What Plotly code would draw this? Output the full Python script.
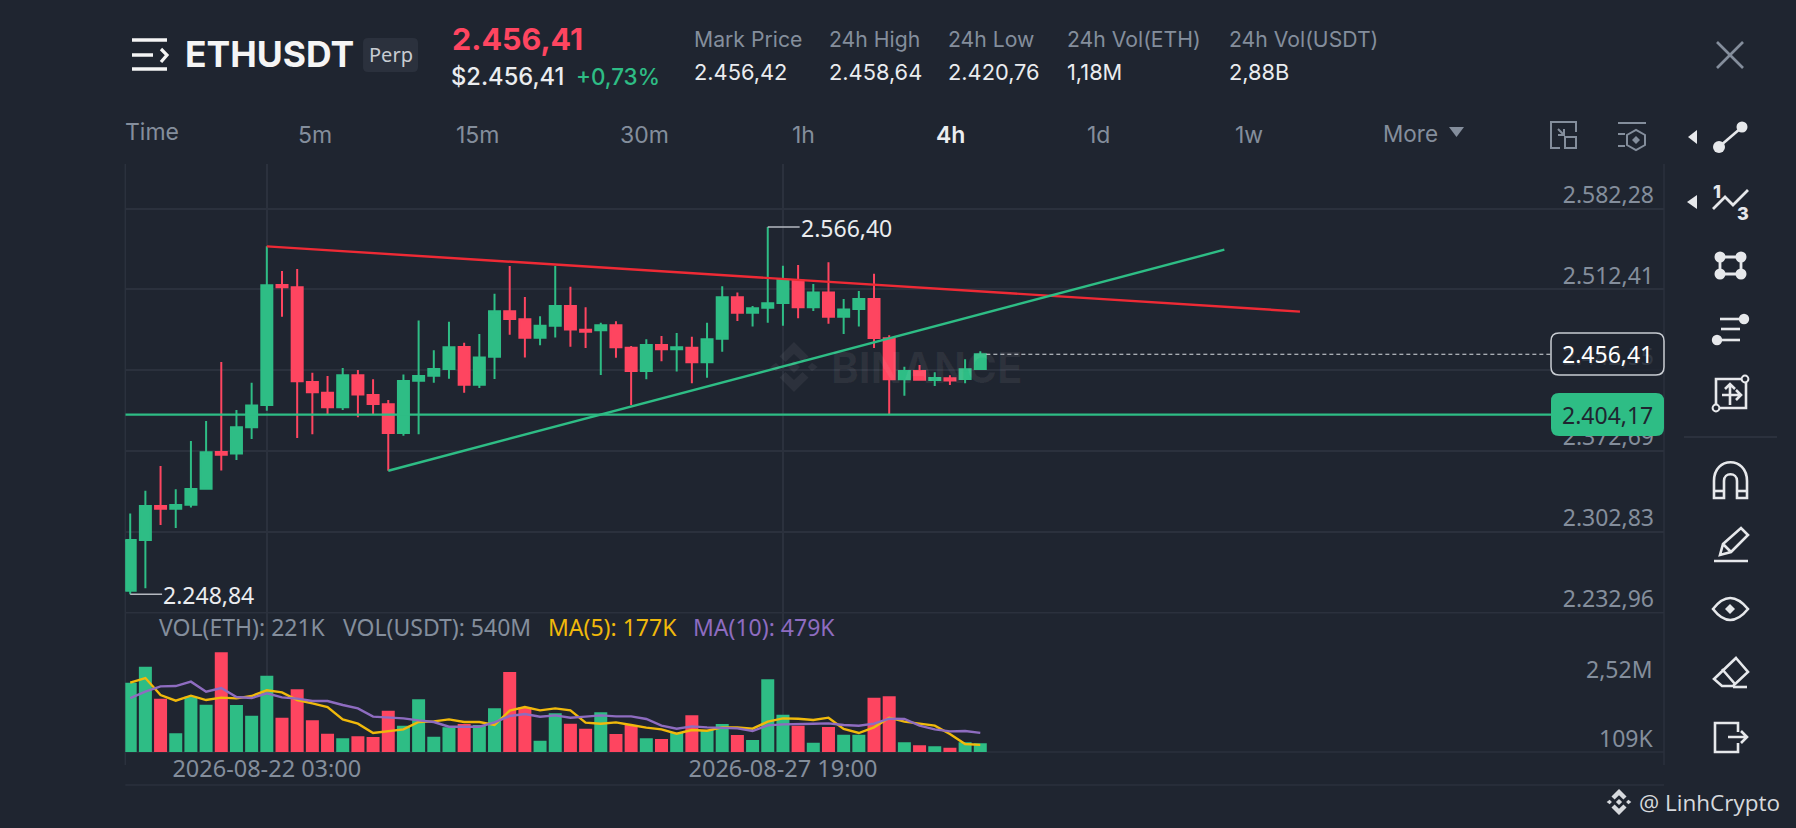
import re
import pandas as pd
import plotly.graph_objects as go

W, H = 1796, 828
BG = "#1F2530"; GRID = "#2B313D"; GREEN = "#2EBD85"; RED = "#FE4560"; GRAY = "#848E9C"; WHITE = "#EAECEF"
ICON = "#E6E8EB"

# ---------- data ----------
start = pd.Timestamp("2026-08-20 15:00")
opens = [2252.0,2295.8,2325.2,2322.9,2326.3,2340.2,2371.9,2370.7,2393.2,2412.5,2516.3,2514.3,2432.4,2423.2,2410.5,2438.2,2421.2,2413.1,2388.3,2433.6,
         2437.9,2443.6,2462.7,2430.1,2454.3,2493.5,2486.6,2470.7,2481.1,2498.1,2477.7,2477.1,2481.4,2462.1,2441.9,2464.4,2460.7,2462.1,2449.4,2469.9,
         2505.6,2492.4,2496.7,2500.7,2520.0,2497.0,2509.7,2488.9,2495.5,2504.2,2470.2,2434.7,2441.9,2434.1,2435.6,2435.0,2443.6]
highs = [2318.8,2338.4,2359.8,2339.6,2381.4,2398.7,2449.7,2408.2,2431.8,2549.7,2528.4,2530.1,2440.5,2437.6,2444.5,2442.8,2434.7,2416.8,2439.0,2485.7,
         2459.8,2484.6,2466.4,2473.9,2508.8,2532.7,2505.9,2489.2,2532.7,2514.8,2497.0,2483.7,2484.9,2463.5,2469.3,2472.2,2474.8,2471.6,2483.7,2515.1,
         2509.7,2498.1,2566.4,2533.0,2533.6,2517.1,2535.9,2504.2,2511.1,2526.1,2472.8,2445.7,2447.1,2440.8,2438.2,2452.0,2458.9]
lows = [2248.84,2254.0,2308.8,2306.2,2324.0,2340.2,2356.0,2365.0,2383.1,2407.6,2488.9,2384.0,2387.2,2404.7,2408.2,2401.9,2404.7,2355.7,2386.0,2387.2,
        2431.8,2435.3,2423.2,2427.2,2435.0,2473.3,2453.7,2464.1,2471.0,2463.0,2461.8,2438.5,2453.4,2412.5,2434.7,2450.3,2441.6,2431.3,2436.1,2458.6,
        2485.2,2480.5,2483.7,2481.1,2487.5,2493.8,2482.8,2473.9,2480.5,2461.8,2404.17,2420.6,2433.6,2428.9,2429.8,2431.3,2443.4]
closes = [2295.8,2325.2,2322.9,2326.0,2339.9,2371.6,2369.6,2393.2,2412.2,2516.0,2514.3,2433.0,2423.5,2410.5,2438.2,2421.7,2413.4,2388.3,2433.3,2437.6,
          2443.6,2462.4,2430.1,2453.7,2493.5,2486.9,2470.7,2481.1,2498.1,2477.9,2475.9,2481.4,2462.4,2441.9,2464.4,2460.7,2462.4,2449.4,2469.3,2505.6,
          2492.4,2496.1,2500.4,2520.6,2497.0,2509.7,2488.9,2495.2,2504.2,2470.4,2434.7,2441.9,2434.4,2435.9,2433.8,2443.4,2456.41]
volume_k = [1733,2132,1333,466,1383,1183,2491,1175,908,1908,858,1566,791,458,342,392,375,1033,658,1316,
            383,616,700,675,1091,1999,1116,283,966,708,583,991,450,675,342,325,483,916,550,700,
            425,300,1816,933,658,233,625,433,433,1358,1391,242,167,142,108,242,221]
ma5_k = [1733,1849,1424,1283,1408,1299,1358,1341,1399,1541,1491,1299,1216,1125,816,708,475,525,566,750,
         766,816,750,750,675,1033,1125,1041,1091,1041,733,708,741,675,608,566,458,550,533,616,
         616,583,758,841,833,800,858,575,475,616,858,758,700,658,450,200,177]
ma10_k = [1349,1508,1641,1649,1758,1508,1599,1374,1349,1466,1366,1333,1274,1274,1175,1091,883,866,841,791,
          750,633,633,633,741,900,950,883,916,858,883,916,891,891,825,658,583,641,616,608,
          591,525,666,691,708,708,716,675,658,708,833,825,658,566,516,525,479]
price_ticks = [2582.28, 2512.41, 2442.55, 2372.69, 2302.83, 2232.96]
price_tick_text = ["2.582,28", "2.512,41", "2.442,55", "2.372,69", "2.302,83", "2.232,96"]
date_ticks = ["2026-08-22 03:00", "2026-08-27 19:00"]
red_trend = [2549.7, 2493.3]
green_trend = [2355.7, 2546.8]
support = 2404.17
last_price = 2456.41

# ---------- pixel helpers ----------
def fx(x): return x / W
def fy(y): return (H - y) / H
X0, X1 = 125.3, 1664.0
BAR0, BARW = 130.2, 15.18
def when(i): return start + pd.Timedelta(hours=4 * i)
def iat(px): return (px - BAR0) / BARW

shapes, notes = [], []
def path(d, color=None, fill=None, w=2.6, layer="above"):
    toks = re.findall(r"[MLQCZ]|-?[\d.]+", d)
    out, isx = [], True
    for t in toks:
        if t in "MLQCZ":
            out.append(t); isx = True
        else:
            out.append(f"{fx(float(t)):.5f}" if isx else f"{fy(float(t)):.5f}")
            isx = not isx
    s = dict(type="path", path=" ".join(out), xref="paper", yref="paper", layer=layer,
             line=dict(color=color or "rgba(0,0,0,0)", width=w if color else 0))
    if fill: s["fillcolor"] = fill
    shapes.append(s)
def seg(x0, y0, x1, y1, color=ICON, w=2.6, layer="above"):
    shapes.append(dict(type="line", xref="paper", yref="paper", x0=fx(x0), x1=fx(x1), y0=fy(y0), y1=fy(y1),
                       layer=layer, line=dict(color=color, width=w)))
def dot(x, y, r, fill=ICON, color=None, w=2):
    shapes.append(dict(type="circle", xref="paper", yref="paper", x0=fx(x - r), x1=fx(x + r), y0=fy(y - r), y1=fy(y + r),
                       layer="above", fillcolor=fill, line=dict(color=color or fill, width=w if color else 0)))
def rrect(x0, y0, x1, y1, r, color=None, fill=None, w=1.5, layer="above"):
    path(f"M {x0+r} {y0} L {x1-r} {y0} Q {x1} {y0} {x1} {y0+r} L {x1} {y1-r} Q {x1} {y1} {x1-r} {y1} "
         f"L {x0+r} {y1} Q {x0} {y1} {x0} {y1-r} L {x0} {y0+r} Q {x0} {y0} {x0+r} {y0} Z", color, fill, w, layer)
def txt(x, y, s, size=21, color=GRAY, anchor="left", weight=None, font="Noto Sans"):
    f = dict(size=size, color=color, family=font)
    if weight: f["weight"] = weight
    notes.append(dict(x=fx(x), y=fy(y), xref="paper", yref="paper", text=s, showarrow=False, xanchor=anchor,
                      yanchor="middle", font=f, borderpad=0))
def logo(cx, cy, r, fill):
    def poly(pts):
        path("M " + " L ".join(f"{cx+a*r:.2f} {cy+b*r:.2f}" for a, b in pts) + " Z", None, fill)
    poly([(0, -.24), (.24, 0), (0, .24), (-.24, 0)])
    poly([(-.72, -.17), (-.55, 0), (-.72, .17), (-.95, 0)])
    poly([(.72, -.17), (.95, 0), (.72, .17), (.55, 0)])
    poly([(0, -1), (.58, -.42), (.34, -.2), (0, -.52), (-.34, -.2), (-.58, -.42)])
    poly([(0, 1), (.58, .42), (.34, .2), (0, .52), (-.34, .2), (-.58, .42)])

# ---------- frame ----------
seg(X0, 164, X0, 765, GRID, 1.5, "below")
seg(X1, 164, X1, 765, GRID, 1.5, "below")
seg(X0, 612.7, X1, 612.7, GRID, 1.5, "below")
seg(X0, 752, X1, 752, GRID, 1.5, "below")
seg(X0, 785, X1, 785, GRID, 1.5, "below")
logo(794, 367, 25, "rgba(255,255,255,0.06)")
txt(830, 367, "BINANCE", 42, "rgba(255,255,255,0.06)", weight=700, font="Inter")

# ---------- header ----------
seg(132, 40, 167, 40, "#F5F5F5", 3.5); seg(132, 55, 153, 55, "#F5F5F5", 3.5); seg(132, 69, 167, 69, "#F5F5F5", 3.5)
path("M 161 49 L 167 55 L 161 62", "#F5F5F5", None, 3.2)
txt(184, 55, "ETHUSDT", 35.5, "#F5F5F5", weight=700, font="Inter")
rrect(363, 38, 418, 72, 5, None, "#2B313D")
txt(390.5, 55, "Perp", 20, "#C8CCD2", "center")
txt(451, 39, "2.456,41", 30.5, RED, weight=700, font="Inter")
txt(450, 77, "$2.456,41", 23.7, WHITE, weight=500, font="Inter")
txt(575, 77, "+0,73%", 22.4, GREEN, weight=500, font="Inter")
for x, a, b in [(692.5, "Mark Price", "2.456,42"), (827.5, "24h High", "2.458,64"), (947, "24h Low", "2.420,76"),
                (1066, "24h Vol(ETH)", "1,18M"), (1228, "24h Vol(USDT)", "2,88B")]:
    txt(x, 39, a, 21.2, GRAY, font="Inter")
    txt(x, 71.5, b, 21.8, WHITE, font="Inter")
seg(1717, 42, 1743, 68, GRAY, 2.6); seg(1743, 42, 1717, 68, GRAY, 2.6)
txt(124, 132, "Time", 23, GRAY, font="Inter")
for cx, s in [(315, "5m"), (477, "15m"), (644, "30m"), (803, "1h"), (1098, "1d"), (1249, "1w")]:
    txt(cx, 135, s, 23, GRAY, "center", font="Inter")
txt(950, 135, "4h", 23, WHITE, "center", weight=600, font="Inter")
txt(1382, 133, "More", 22.5, GRAY, font="Inter")
path("M 1449 127 L 1464 127 L 1456.5 137 Z", None, GRAY)

# top-right view icons
path("M 1560 148 L 1551 148 L 1551 122 L 1576 122 L 1576 132", GRAY, None, 2)
path("M 1565 137 L 1576 137 L 1576 148 L 1565 148 Z", GRAY, None, 2)
path("M 1558 129 L 1564 135 M 1564 129 L 1564 135 L 1558 135", GRAY, None, 2)
seg(1618, 123, 1646, 123, GRAY, 2); seg(1618, 134, 1625, 134, GRAY, 2); seg(1618, 146, 1625, 146, GRAY, 2)
path("M 1636 130 L 1645 135 L 1645 145 L 1636 150 L 1627 145 L 1627 135 Z", GRAY, None, 2)
path("M 1636 136 L 1640 140 L 1636 144 L 1632 140 Z", None, GRAY)

# ---------- right toolbar ----------
path("M 1697 130 L 1697 144 L 1688 137 Z", None, ICON)
seg(1720, 146, 1741, 128); dot(1742, 127, 5.5); dot(1719, 147, 6)
path("M 1697 195 L 1697 209 L 1687 202 Z", None, ICON)
path("M 1713 209 L 1725 197 L 1733 205 L 1748 190", ICON, None, 2.8)
txt(1717, 191, "1", 18, ICON, "center", 800, "Inter"); txt(1743, 213, "3", 18, ICON, "center", 800, "Inter")
path("M 1720 257 L 1741 257 L 1741 274 L 1720 274 Z", ICON, None, 2.8)
for a, b in [(1720, 257), (1741, 257), (1720, 274), (1741, 274)]: dot(a, b, 5.5)
seg(1720, 319, 1740, 319); seg(1721, 329, 1740, 329); seg(1721, 340, 1740, 340)
dot(1744, 319, 5.2); dot(1717, 340, 5.2)
path("M 1716 379 L 1746 379 L 1746 408 L 1716 408 Z", ICON, None, 2.6)
dot(1745, 379, 3.4, BG, ICON, 2); dot(1716, 408, 3.4, BG, ICON, 2)
path("M 1730 405 L 1730 384 M 1725 389 L 1730 384 L 1735 389 M 1722 395 L 1741 395 M 1736 390 L 1741 395 L 1736 400", ICON, None, 2.6)
seg(1684, 437, 1777, 437, GRID, 2)
path("M 1714 498 L 1714 481 C 1714 456 1747 456 1747 481 L 1747 498 L 1737 498 L 1737 481 C 1737 472 1724 472 1724 481 L 1724 498 Z", ICON, None, 2.6)
seg(1714, 491, 1724, 491); seg(1737, 491, 1747, 491)
seg(1714, 561, 1748, 561)
path("M 1720 555 L 1723 544 L 1741 528 L 1748 535 L 1731 552 Z M 1723 544 L 1731 552", ICON, None, 2.6)
path("M 1713 609 Q 1730 587 1748 609 Q 1730 631 1713 609 Z", ICON, None, 2.6)
path("M 1730 604 L 1735 609 L 1730 614 L 1725 609 Z", None, ICON)
path("M 1736 658 L 1748 672 L 1733 686 L 1722 686 L 1714 679 Z M 1722 669 L 1735 684", ICON, None, 2.6)
seg(1733, 687, 1747, 687)
path("M 1738 732 L 1738 723 L 1715 723 L 1715 752 L 1738 752 L 1738 743", ICON, None, 2.6)
path("M 1728 737 L 1747 737 M 1741 731 L 1747 737 L 1741 743", ICON, None, 2.6)

# ---------- price badges ----------
rrect(1551, 393, 1664, 436, 8, None, GREEN)
rrect(1551, 333, 1664, 375, 8, "#C8CCD2", "rgba(31,37,48,0.82)", 1.5)
txt(1607.5, 354, "2.456,41", 23, "#FFFFFF", "center")
txt(1607.5, 415, "2.404,17", 23, BG, "center")

# ---------- volume panel text ----------
txt(158, 627, "VOL(ETH): 221K", 23, GRAY)
txt(342, 627, "VOL(USDT): 540M", 23, GRAY)
txt(547, 627, "MA(5): 177K", 23, "#F0B90B")
txt(692, 627, "MA(10): 479K", 23, "#8E6CC0")
txt(1654, 669, "2,52M", 23, GRAY, "right")
txt(1654, 738, "109K", 23, GRAY, "right")
txt(162, 595, "2.248,84", 23, WHITE)
txt(800, 228, "2.566,40", 23, WHITE)
logo(1619, 802, 13, "#D6D9DD")
txt(1638, 802, "@ LinhCrypto", 22.5, "#D6D9DD", font="Open Sans")

# ---------- traces ----------
dates = [when(i) for i in range(len(opens))]
bar_colors = [GREEN if c >= o else RED for o, c in zip(opens, closes)]
fig = go.Figure()
fig.add_trace(go.Candlestick(x=dates, open=opens, high=highs, low=lows, close=closes, whiskerwidth=0, xaxis="x", yaxis="y",
                             increasing=dict(line=dict(color=GREEN, width=2), fillcolor=GREEN),
                             decreasing=dict(line=dict(color=RED, width=2), fillcolor=RED), hoverinfo="skip"))
def line(xs, ys, color, w=2.4, dash=None):
    fig.add_trace(go.Scatter(x=xs, y=ys, mode="lines", xaxis="x", yaxis="y", hoverinfo="skip",
                             line=dict(color=color, width=w, dash=dash)))
line([when(iat(X0)), when(iat(1551))], [support, support], GREEN)
line([when(9), when(77.06)], red_trend, "#EE2A35")
line([when(17), when(72.08)], green_trend, GREEN)
line([when(56.4), when(iat(1551))], [last_price, last_price], "#D8DBE0", 1.2, "4px,3px")
line([when(42), when(44.1)], [highs[42], highs[42]], "#B5B9C0", 1.5)
line([when(0), when(2.1)], [lows[0], lows[0]], "#B5B9C0", 1.5)
fig.add_trace(go.Scatter(x=[when(iat(1654))] * len(price_ticks), y=price_ticks, text=price_tick_text, mode="text",
                         textposition="top left", textfont=dict(size=23, color=GRAY, family="Noto Sans"),
                         cliponaxis=False, xaxis="x", yaxis="y", hoverinfo="skip"))
fig.add_trace(go.Bar(x=dates, y=volume_k, marker=dict(color=bar_colors, line=dict(width=0)), xaxis="x2", yaxis="y2", hoverinfo="skip"))
fig.add_trace(go.Scatter(x=dates, y=ma5_k, mode="lines", line=dict(color="#F0B90B", width=2.4), xaxis="x2", yaxis="y2", hoverinfo="skip"))
fig.add_trace(go.Scatter(x=dates, y=ma10_k, mode="lines", line=dict(color="#8E6CC0", width=2.4), xaxis="x2", yaxis="y2", hoverinfo="skip"))

xrange = [when(iat(X0)), when(iat(X1))]
common_x = dict(domain=[fx(X0), fx(X1)], range=xrange, type="date", showgrid=True, gridcolor=GRID, gridwidth=1.5,
                zeroline=False, showline=False, ticks="", tickvals=date_ticks, rangeslider=dict(visible=False))
fig.update_layout(
    width=W, height=H, margin=dict(l=0, r=0, t=0, b=0), autosize=False,
    paper_bgcolor=BG, plot_bgcolor=BG, showlegend=False, hovermode=False,
    boxmode="group", boxgap=0.275, boxgroupgap=0, bargap=0.144,
    xaxis=dict(**common_x, anchor="y", showticklabels=False),
    xaxis2=dict(**common_x, anchor="y2", matches="x", showticklabels=True, ticktext=date_ticks,
                tickfont=dict(size=23.5, color=GRAY, family="Noto Sans")),
    yaxis=dict(domain=[fy(612.7), fy(164)], range=[price_ticks[-1], 2620.9], side="right", tickvals=price_ticks,
               showticklabels=False, ticks="", showgrid=True, gridcolor=GRID, gridwidth=1.5, zeroline=False, showline=False, anchor="x"),
    yaxis2=dict(domain=[fy(752), fy(612.7)], range=[0, 3482], side="right", showticklabels=False, ticks="",
                showgrid=False, zeroline=False, showline=False, anchor="x2"),
    shapes=shapes, annotations=notes,
)
fig.write_html("out.html", config=dict(displayModeBar=False),
               post_script="document.body.style.margin='0';document.body.style.background='" + BG + "';")
